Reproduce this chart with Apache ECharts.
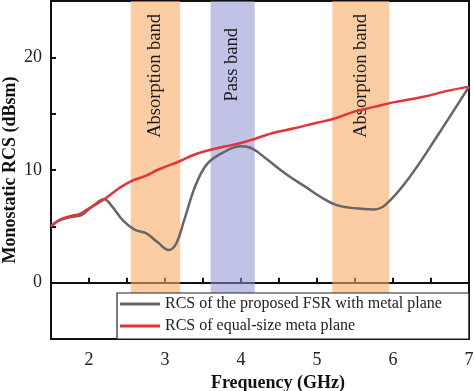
<!DOCTYPE html>
<html><head><meta charset="utf-8">
<script src="https://cdn.jsdelivr.net/npm/echarts@6/dist/echarts.min.js"></script>
<style>html,body{margin:0;padding:0;background:#fff}#c{width:474px;height:391px}</style>
</head><body><div id="c"></div>
<script>
const freqGray = [1.5,1.6,1.75,1.9,2.05,2.2,2.3,2.45,2.6,2.75,2.9,3.05,3.15,3.25,3.4,3.55,3.75,4.0,4.15,4.35,4.6,4.85,5.05,5.25,5.5,5.75,5.9,6.2,6.6,7.0];
const rcsGray = [5.0,5.5,5.8,6.0,6.8,7.4,6.8,5.5,4.7,4.4,3.6,2.9,3.5,5.5,8.6,10.5,11.5,12.1,11.9,10.9,9.6,8.5,7.6,6.9,6.6,6.5,6.9,9.2,13.2,17.4];
const freqRed = [1.5,1.62,1.75,1.88,2.0,2.2,2.4,2.55,2.75,2.9,3.2,3.4,3.6,3.8,4.0,4.2,4.43,4.7,5.0,5.2,5.5,5.75,6.0,6.4,6.7,7.0];
const rcsRed = [5.0,5.6,5.9,6.1,6.6,7.4,8.4,9.0,9.5,10.0,10.8,11.4,11.8,12.1,12.4,12.8,13.3,13.7,14.2,14.5,15.2,15.6,16.0,16.5,17.0,17.4];
const bandNames = ['Absorption band','Pass band','Absorption band'];
const bandStart = [2.55,3.6,5.2];
const bandEnd = [3.2,4.18,5.95];
const seriesNames = ['RCS of the proposed FSR with metal plane','RCS of equal-size meta plane'];

const zip = (a,b)=>a.map((v,i)=>[v,b[i]]);
const bandColors = ['rgba(250,172,100,0.6)','rgba(140,146,208,0.55)','rgba(250,172,100,0.6)'];
const bandOffsets = [13, 27, 13];
const font = '"Liberation Serif","Times New Roman",serif';

const chart = echarts.init(document.getElementById('c'));
chart.setOption({
  animation:false,
  backgroundColor:'#fff',
  grid:{left:51,right:5,top:1,bottom:52,outerBoundsMode:'none',containLabel:false,show:true,borderColor:'#111',borderWidth:2,backgroundColor:'transparent'},
  xAxis:{type:'value',min:1.5,max:7,interval:0.5,
    name:'Frequency (GHz)',nameLocation:'middle',nameGap:34,
    nameTextStyle:{fontFamily:font,fontWeight:'bold',fontSize:18,color:'#111',padding:[0,0,0,36]},
    axisLine:{lineStyle:{color:'#111',width:2}},
    axisTick:{inside:true,length:5,lineStyle:{color:'#111',width:2}},
    axisLabel:{margin:12,fontFamily:font,fontSize:18,color:'#222',
      formatter:v=>Number.isInteger(v)&&v>1.5?String(v):''},
    splitLine:{show:false}},
  yAxis:{type:'value',min:-5,max:25,interval:5,
    name:'Monostatic RCS (dBsm)',nameLocation:'middle',nameGap:32,nameMoveOverlap:false,
    nameTextStyle:{fontFamily:font,fontWeight:'bold',fontSize:18,color:'#111'},
    axisLine:{lineStyle:{color:'#111',width:2}},
    axisTick:{inside:true,length:5,lineStyle:{color:'#111',width:2}},
    axisLabel:{margin:9,fontFamily:font,fontSize:18,color:'#222',
      formatter:v=>(v%10===0)?String(v):''},
    splitLine:{show:false}},
  legend:{left:117,top:293,orient:'vertical',itemWidth:40,itemHeight:3,itemGap:6,icon:'rect',
    padding:[3,27,5,3],borderColor:'#222',borderWidth:1.2,backgroundColor:'#fff',borderRadius:0,
    textStyle:{fontFamily:font,fontSize:16,color:'#222',lineHeight:16},
    data:seriesNames},
  series:[
    {name:seriesNames[0],type:'line',smooth:0.4,showSymbol:false,z:3,
     lineStyle:{color:'#666666',width:2.5},itemStyle:{color:'#666666'},
     data:zip(freqGray,rcsGray)},
    {name:seriesNames[1],type:'line',smooth:0.4,showSymbol:false,z:3,
     lineStyle:{color:'#e3343a',width:2.5},itemStyle:{color:'#e3343a'},
     data:zip(freqRed,rcsRed)},
    {name:'bands',type:'line',data:[],z:5,silent:true,
     markArea:{silent:true,
       data:bandNames.map((n,i)=>[
         {name:n,xAxis:bandStart[i],yAxis:25.1,itemStyle:{color:bandColors[i]},
          label:{show:true,position:'insideTop',rotate:90,align:'right',verticalAlign:'middle',
            distance:bandOffsets[i],fontFamily:font,fontSize:18.5,color:'#1a1a1a'}},
         {xAxis:bandEnd[i],yAxis:-5}])}}
  ]
});
</script></body></html>
